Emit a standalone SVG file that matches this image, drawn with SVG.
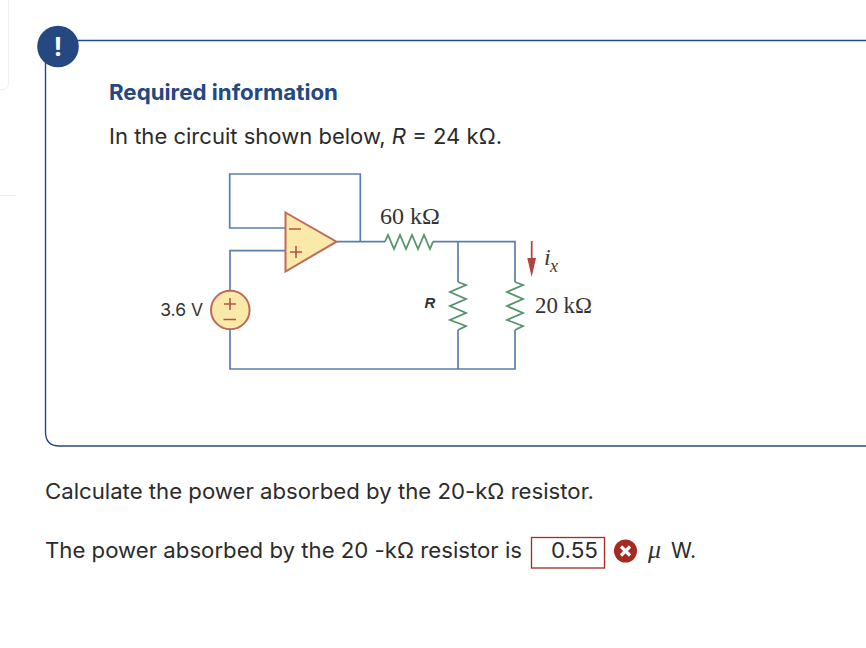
<svg xmlns="http://www.w3.org/2000/svg" width="866" height="648" viewBox="0 0 866 648">
<style>
text{font-family:"Inter","Open Sans","Liberation Sans",sans-serif}
.t{font-size:21.500px;fill:#2b2b2b}
.s{font-family:"Liberation Serif","DejaVu Serif",serif;font-size:23px;fill:#333}
.w{fill:none;stroke:#5a7fae;stroke-width:1.7}
.r{fill:none;stroke:#55936a;stroke-width:1.800}
.c{fill:#fbe9a9;stroke:#bd6a5a;stroke-width:2}
.m{fill:none;stroke:#b5544a;stroke-width:1.600}
.f{fill:none;stroke:#24487f;stroke-width:1.400}
</style>
<rect width="866" height="648" fill="#fff"/>
<g id="page-edge" fill="none" stroke="#f0f0f0">
<path d="M0 89.500H2Q8.500 89.500 8.500 83V0"/>
<path d="M0 195.500H16"/>
</g>
<g id="panel">
<path class="f" d="M45.500 60V432Q45.500 446 59.500 446H866M70 40.500H866"/>
<circle cx="58" cy="46.500" r="20.800" fill="#24487f"/>
<text x="58" y="55.500" text-anchor="middle" font-size="25" font-weight="700" style="fill:#fff">!</text>
</g>
<text x="109" y="100" font-size="21.500" font-weight="700" fill="#24487f" textLength="229" lengthAdjust="spacingAndGlyphs">Required information</text>
<text class="t" x="109" y="144" textLength="393" lengthAdjust="spacingAndGlyphs">In the circuit shown below, <tspan font-style="italic">R</tspan> = 24 kΩ.</text>
<g id="connectors">
<path class="w" d="M285 228H229.700V174H360.300V241.700"/>
<path class="w" d="M337 241.700H385M433 241.700H515V282M515 330V369H230V329.500M230 290.500V250.700H285M458 241.700V282M458 330V369"/>
</g>
<g id="opamp">
<path class="c" d="M285.500 212.500L336.500 241.700L285.500 271.500Z"/>
<path class="m" d="M289 229H301M290 252H302M296 246V258"/>
</g>
<g id="source">
<circle class="c" cx="230.300" cy="310" r="19.300"/>
<path class="m" d="M224 304H236M230 298V310M223.500 319.500H236"/>
<text x="203" y="316" text-anchor="end" font-size="17.500" fill="#333">3.6 V</text>
</g>
<g id="r60">
<path class="r" d="M385 241.700L388 235L394 249L400 235L406 249L412 235L418 249L424 235L430 249L433 241.700"/>
<text class="s" x="380" y="224" textLength="60" lengthAdjust="spacingAndGlyphs">60 kΩ</text>
</g>
<g id="rR">
<path class="r" d="M458 282L466 285L450 292L466 299L450 306L466 313L450 320L466 326L458 330"/>
<text x="430" y="308" text-anchor="middle" font-size="15" font-weight="700" font-style="italic" fill="#333" style="font-family:'Liberation Sans',sans-serif">R</text>
</g>
<g id="r20">
<path class="r" d="M515 282L523 285L507 292L523 299L507 306L523 313L507 320L523 326L515 330"/>
<text class="s" x="535" y="313" textLength="57" lengthAdjust="spacingAndGlyphs">20 kΩ</text>
</g>
<g id="ix">
<path d="M531.700 241V260" stroke="#b5403f" stroke-width="1.700" fill="none"/>
<path d="M527.300 258H536L531.700 277Z" fill="#b5403f"/>
<text x="544" y="265" font-size="24" font-style="italic" fill="#3a3a3a" style="font-family:'Liberation Serif',serif">i</text>
<text x="550" y="272" font-size="18" font-style="italic" fill="#3a3a3a" style="font-family:'Liberation Serif',serif">x</text>
</g>
<text class="t" x="45" y="499" textLength="549" lengthAdjust="spacingAndGlyphs">Calculate the power absorbed by the 20-kΩ resistor.</text>
<text class="t" x="45" y="558" textLength="477" lengthAdjust="spacingAndGlyphs">The power absorbed by the 20 -kΩ resistor is</text>
<g id="answer">
<rect x="531.500" y="537.500" width="73" height="30.500" fill="#fff" stroke="#a62a20" stroke-width="1.300"/>
<text class="t" x="598" y="558" text-anchor="end" textLength="47" lengthAdjust="spacingAndGlyphs">0.55</text>
<circle cx="625.500" cy="551" r="11.500" fill="#a62a20"/>
<path d="M621 546.500L630 555.500M630 546.500L621 555.500" stroke="#fff" stroke-width="3.200" fill="none"/>
</g>
<text x="648" y="558" font-size="26" font-style="italic" fill="#333" style="font-family:'Liberation Serif',serif">μ</text>
<text class="t" x="671" y="558" textLength="25" lengthAdjust="spacingAndGlyphs">W.</text>
</svg>
